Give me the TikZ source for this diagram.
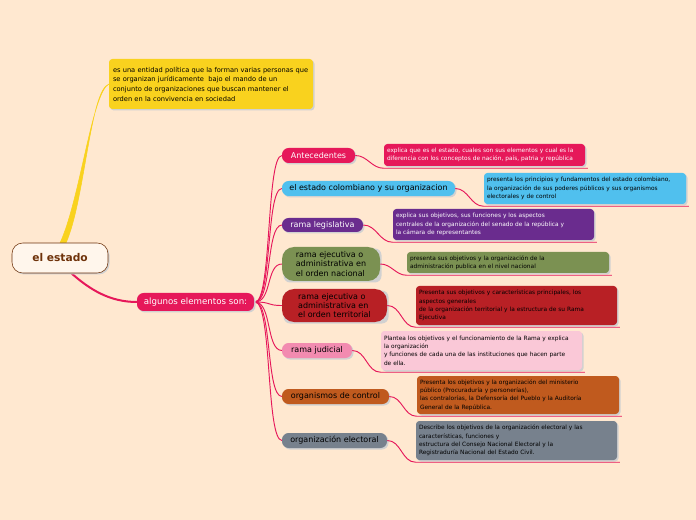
\documentclass[tikz,border=0pt]{standalone}
\usepackage{fontspec}
\setmainfont{DejaVu Sans}
\lefthyphenmin=62
\begin{document}
\lefthyphenmin=62
\begin{tikzpicture}[x=0.75pt,y=-0.75pt,
  bx/.style={rounded corners=2.5pt,inner sep=1.5pt,align=left},
  pill/.style={rounded corners=5pt,inner sep=1pt,align=center,font=\fontsize{6}{7}\selectfont},
  conn/.style={draw={rgb,255:red,230;green,24;blue,90},line width=0.7pt}]
\definecolor{bg}{RGB}{255,232,208}
\definecolor{crim}{RGB}{230,24,90}
\definecolor{yel}{RGB}{249,210,30}
\definecolor{blu}{RGB}{80,192,238}
\definecolor{pur}{RGB}{106,44,142}
\definecolor{grn}{RGB}{123,145,82}
\definecolor{red2}{RGB}{184,32,37}
\definecolor{pnk}{RGB}{242,139,176}
\definecolor{pnkl}{RGB}{250,200,215}
\definecolor{org}{RGB}{192,90,30}
\definecolor{gry}{RGB}{119,129,141}
\definecolor{brn}{RGB}{110,50,10}
\fill[bg] (0,0) rectangle (696,520);
\useasboundingbox (0,0) rectangle (696,520);
\newcommand\mybox[9]{%
 \fill[black!18,rounded corners=2.5pt] (#2+1.5,#3+1.5) rectangle (#4+1.5,#5+1.5);
 \node[fill=#6,text=#7,minimum width={(#4-#2)*0.75pt},minimum height={(#5-#3)*0.75pt},text width={(#4-#2-6)*0.75pt},#8] (#1) at ({(#2+#4)/2},{(#3+#5)/2}) {#9};}
\newcommand\mypill[9]{%
 \fill[black!18,rounded corners=5pt] (#2+1.5,#3+1.5) rectangle (#4+1.5,#5+1.5);
 \node[fill=#6,text=#7,minimum width={(#4-#2)*0.75pt},minimum height={(#5-#3)*0.75pt},#8] (#1) at ({(#2+#4)/2},{(#3+#5)/2}) {#9};}
\draw[yel,fill=yel] (66,243) .. controls (85,200) and (90,90) .. (109,84) .. controls (92,92) and (80,200) .. (60,243) -- cycle;
\draw[conn,line width=1.5pt] (70,272) .. controls (90,290) and (110,302) .. (137,302);
\foreach \y in {155.5,188.5,225,264,305.5,350.5,396.5,440.5}{
  \draw[conn] (255,302) .. controls (272,302) and (266,\y) .. (282,\y);}
\fill[black!18,rounded corners=8pt] (13.5,244.5) rectangle (109.5,274.5);
\node[draw=brn,fill=bg!40!white,rounded corners=8pt,minimum width={96*0.75pt},minimum height={30*0.75pt},font=\fontsize{8}{9}\selectfont\bfseries,text=brn] (root) at (60,258) {el estado};
\mybox{top}{109}{59}{313}{109}{yel}{black}{bx,font=\fontsize{5}{7.2}\selectfont,text width={196*0.75pt}}{es una entidad política que la forman varias personas que\\se organizan jurídicamente\ \ bajo el mando de un\\ conjunto de organizaciones que buscan mantener el\\ orden en la convivencia en sociedad}
\mypill{alg}{137}{293}{254}{311}{crim}{white}{pill,font=\fontsize{6.5}{7}\selectfont}{algunos elementos son:}
\mypill{c1}{282}{148}{355}{163}{crim}{white}{pill}{Antecedentes}
\mypill{c2}{282}{181}{455}{196}{blu}{black}{pill}{el estado colombiano y su organizacion}
\mypill{c3}{282}{218}{363}{232}{pur}{white}{pill}{rama legislativa}
\mypill{c4}{282}{247}{380}{281}{grn}{black}{pill,rounded corners=9pt,align=left}{rama ejecutiva o\\administrativa en\\el orden nacional}
\mypill{c5}{282}{289}{387}{322}{red2}{black}{pill,rounded corners=9pt,align=left}{rama ejecutiva o\\administrativa en\\el orden territorial}
\mypill{c6}{282}{343}{352}{358}{pnk}{black}{pill}{rama judicial}
\mypill{c7}{282}{389}{389}{404}{org}{black}{pill}{organismos de control}
\mypill{c8}{282}{433}{387}{448}{gry}{black}{pill}{organización electoral}
\def\df{\fontsize{4.4}{6.3}\selectfont}
\mybox{d1}{384}{144}{585}{166}{crim}{white}{bx,font=\df}{explica que es el estado, cuales son sus elementos y cual es la\\diferencia con los conceptos de nación, país, patria y república}
\mybox{d2}{484}{173}{686}{204}{blu}{black}{bx,font=\df}{presenta los principios y fundamentos del estado colombiano,\\la organización de sus poderes públicos y sus organismos\\electorales y de control}
\mybox{d3}{393}{209}{594}{240}{pur}{white}{bx,font=\df}{explica sus objetivos, sus funciones y los aspectos\\centrales de la organización del senado de la república y\\la cámara de representantes}
\mybox{d4}{407}{252}{609}{273}{grn}{black}{bx,font=\df}{presenta sus objetivos y la organización de la\\administración publica en el nivel nacional}
\mybox{d5}{416}{286}{617}{325}{red2}{black}{bx,font=\df}{Presenta sus objetivos y características principales, los\\aspectos generales\\de la organización territorial y la estructura de su Rama\\Ejecutiva}
\mybox{d6}{381}{331}{582}{370}{pnkl}{black}{bx,font=\df}{Plantea los objetivos y el funcionamiento de la Rama y explica\\la organización\\y funciones de cada una de las instituciones que hacen parte\\de ella.}
\mybox{d7}{417}{376}{619}{414}{org}{black}{bx,font=\df}{Presenta los objetivos y la organización del ministerio\\público (Procuraduría y personerías),\\las contralorías, la Defensoría del Pueblo y la Auditoría\\General de la República.}
\mybox{d8}{416}{421}{617}{460}{gry}{black}{bx,font=\df}{Describe los objetivos de la organización electoral y las\\características, funciones y\\estructura del Consejo Nacional Electoral y la\\Registraduría Nacional del Estado Civil.}
\foreach \c/\d in {c1/d1,c2/d2,c3/d3,c4/d4,c5/d5,c6/d6,c7/d7,c8/d8}{
  \draw[conn] (\c.east) to[out=0,in=180] ([yshift=-1.5pt]\d.south west) -- ([yshift=-1.5pt,xshift=2pt]\d.south east);}
\end{tikzpicture}
\end{document}
